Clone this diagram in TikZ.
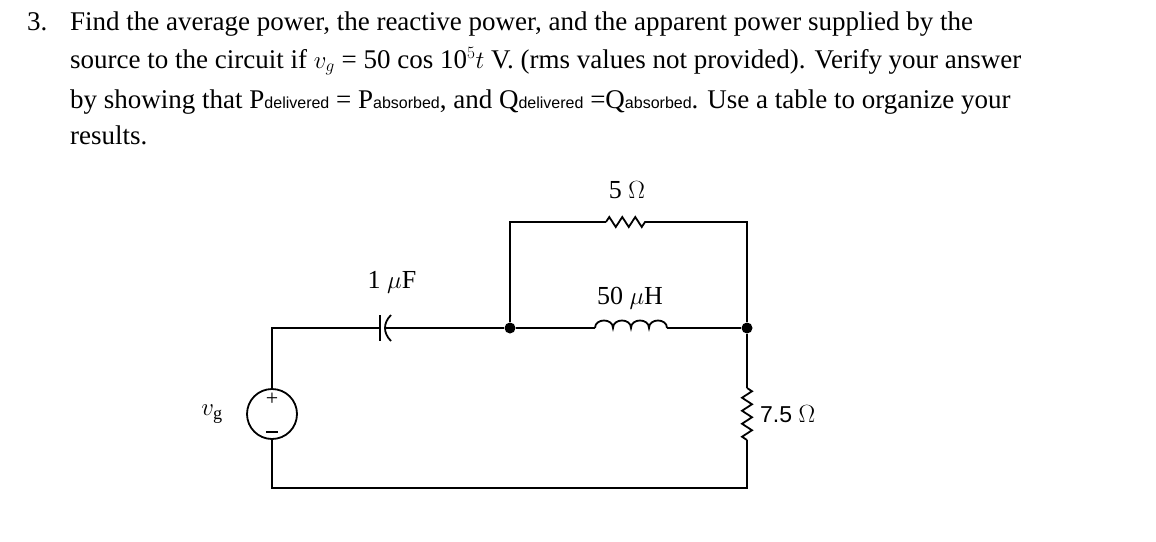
\documentclass[tikz,border=0pt]{standalone}
\usepackage{fontspec}
\setmainfont{Liberation Serif}
\newfontfamily\sfx{Liberation Sans}
\usetikzlibrary{decorations.pathmorphing,calc}
\begin{document}
\begin{tikzpicture}[x=1pt,y=-1pt,
  txt/.style={anchor=base west,inner sep=0pt,font=\fontsize{27}{30}\selectfont},
  lbl/.style={inner sep=0pt,font=\fontsize{26}{28}\selectfont},
  w/.style={line width=1.8pt},
  zig/.style={w,decorate,decoration={zigzag,segment length=13pt,amplitude=5pt}},
  dot/.style={circle,fill=black,inner sep=0pt,minimum size=11pt}]
\useasboundingbox (0,0) rectangle (1156,541);
\newcommand{\sm}[1]{{\sfx\fontsize{16}{17}\selectfont #1}}
\node[txt] (n) at (27,30) {3.};
\node[txt] (l1) at (70,30) {Find the average power, the reactive power, and the apparent power supplied by the};
\node[txt] (l2) at (70,68) {source to the circuit if $v_g$ = 50 cos 10$^5$$t$ V. (rms values not provided). Verify your answer};
\node[txt] (l3) at (70,108) {by showing that P\sm{delivered} = P\sm{absorbed}, and Q\sm{delivered} =Q\sm{absorbed}. Use a table to organize your};
\node[txt] (l4) at (70,144) {results.};
% circuit coordinates
\coordinate (bl) at (272,488);
\coordinate (br) at (747,488);
\coordinate (c1) at (380,328);
\coordinate (c2) at (386,328);
\node[dot] (a) at (510,328) {};
\node[dot] (b) at (747,328) {};
\coordinate (ta) at (510,222);
\coordinate (tb) at (747,222);
\coordinate (r1a) at (606,222);
\coordinate (r1b) at (648,222);
\coordinate (la) at (595,328);
\coordinate (lb) at (667,328);
\coordinate (r2a) at (747,388);
\coordinate (r2b) at (747,440);
\node[circle,draw,line width=1.8pt,minimum size=50pt,inner sep=0pt] (src) at (272,414) {};
\node[inner sep=0pt,font=\fontsize{22}{24}\selectfont] at (272,399) {+};
\draw[line width=1.3pt] (266,432) -- (278,432);
\node[lbl] (vg) at (212,414) {$v_{\mathrm{g}}$};
% wires
\draw[w] (src.north) |- (c1);
\draw[w] (c2) -- (a);
\draw[w] (src.south) |- (br) -- (r2b);
\draw[w] (a) -- (ta) -- (r1a);
\draw[zig] (r1a) -- (r1b);
\draw[w] (r1b) -- (tb) -- (b);
\draw[w] (a) -- (la);
\draw[w] (la) .. controls ++(0,-10) and ++(0,-10) .. ++(18,0)
  .. controls ++(0,-10) and ++(0,-10) .. ++(18,0)
  .. controls ++(0,-10) and ++(0,-10) .. ++(18,0)
  .. controls ++(0,-10) and ++(0,-10) .. (lb);
\draw[w] (lb) -- (b) -- (r2a);
\draw[zig] (r2a) -- (r2b);
% capacitor
\draw[w] ($(c1)+(0,-13)$) -- ($(c1)+(0,13)$);
\draw[w] ($(c2)+(5,-13)$) .. controls ($(c2)+(-3,-5)$) and ($(c2)+(-3,5)$) .. ($(c2)+(5,13)$);
% labels
\node[lbl] (l5) at (627,190) {5 $\Omega$};
\node[lbl] (l50) at (630,298) {50 $\mu$H};
\node[lbl] (lc) at (392,282) {1 $\mu$F};
\node[lbl,anchor=west] (l75) at (760,414) {{\sfx\fontsize{23}{24}\selectfont 7.5} $\Omega$};
\end{tikzpicture}
\end{document}
